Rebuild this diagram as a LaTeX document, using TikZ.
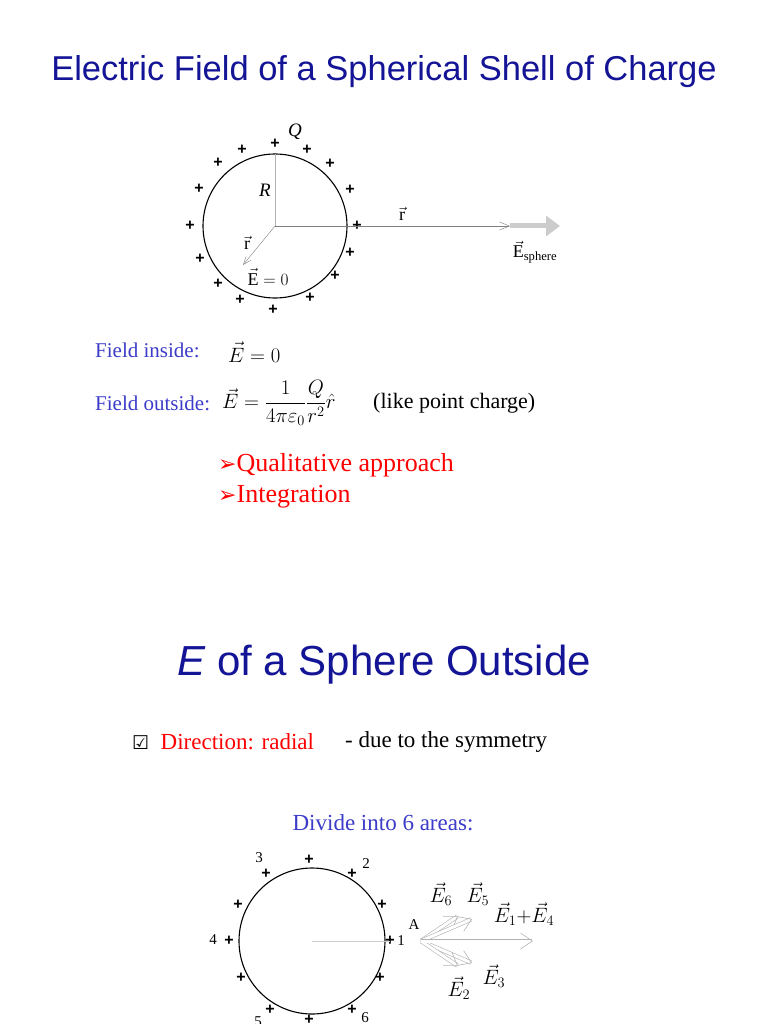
\documentclass[tikz,border=0pt]{standalone}
\usepackage{amsmath}
\usepackage{fontspec}
\setmainfont{Liberation Serif}
\newfontfamily\arialf{Liberation Sans}
\newfontfamily\symf{DejaVu Sans}
\usetikzlibrary{arrows.meta,positioning}
\definecolor{ttlblue}{RGB}{20,20,150}
\definecolor{txtblue}{RGB}{60,60,200}
\tikzset{
  plus/.style={inner sep=0pt, font=\arialf\bfseries\fontsize{16}{16}\selectfont},
  num/.style={inner sep=0pt, font=\fontsize{15}{15}\selectfont},
  lbl/.style={inner sep=0pt, font=\fontsize{18}{18}\selectfont},
  body/.style={inner sep=0pt, font=\fontsize{23}{23}\selectfont},
  field/.style={draw=gray!60, double=white, double distance=3pt, line width=0.6pt, -{Straight Barb[length=12pt,width=16pt]}},
}
\begin{document}
\begin{tikzpicture}[x=1pt,y=-1pt]
    \useasboundingbox (0,0) rectangle (768,1024);

    % titles
    \node[font=\arialf\fontsize{34.5}{34.5}\selectfont, text=ttlblue] (title1) at (384,72) {Electric Field of a Spherical Shell of Charge};
    \node[font=\arialf\fontsize{42}{42}\selectfont, text=ttlblue] (title2) at (384,665) {\textit{E} of a Sphere Outside};

    % upper shell
    \coordinate (o1) at (275,226);
    \draw[line width=1.1pt] (o1) circle (72);
    \foreach \p in {(275,144),(242,150),(218,163),(199,189),(190,226),(200,259),(218,284),(240,300),(273,310),(310,298),(335,276),(350,253),(357,226),(350,190),(330,164),(307,150)}
        \node[plus] at \p {+};
    \coordinate (top1) at (275,154);
    \coordinate (rtip) at (510,226);
    \coordinate (etip) at (560,226);
    \coordinate (rin) at (243,265);
    \draw[gray!60] (o1) -- (top1);
    \draw[gray, -{Straight Barb[length=10pt,width=8pt]}] (o1) -- (rtip);
    \draw[gray!40, line width=5pt, -{Triangle[length=14pt,width=20pt]}] (rtip) -- (etip);
    \draw[gray, -{Straight Barb[length=8pt,width=6pt]}] (o1) -- (rin);
    \node[lbl, font=\itshape\fontsize{19}{19}\selectfont] (q) at (295,132) {Q};
    \node[lbl, font=\itshape\fontsize{19}{19}\selectfont] (rr) at (265,190) {R};
    \node[lbl] (rvec) at (402,214) {$\vec{\mathrm{r}}$};
    \node[lbl] (esph) at (535,252) {$\vec{\mathrm{E}}_{\mathrm{sphere}}$};
    \node[lbl] (rvec2) at (247,243) {$\vec{\mathrm{r}}$};
    \node[lbl] (ezero) at (268,277) {$\vec{\mathrm{E}}=0$};

    % formulas
    \node[body, font=\fontsize{21}{21}\selectfont, text=txtblue, anchor=west] (fin) at (95,350) {Field inside:};
    \node[body, font=\fontsize{21}{21}\selectfont, anchor=west] (fin2) at (228,352) {$\vec{E}=0$};
    \node[body, font=\fontsize{21}{21}\selectfont, text=txtblue, anchor=west] (fout) at (95,403) {Field outside:};
    \node[body, font=\fontsize{20.5}{20.5}\selectfont, anchor=west] (fout2) at (222,403) {$\vec{E}=\dfrac{1}{4\pi\varepsilon_0}\dfrac{Q}{r^2}\hat{r}$};
    \node[body, font=\fontsize{22}{22}\selectfont, anchor=west] (like) at (373,403) {(like point charge)};
    \node[body, font=\fontsize{26}{26}\selectfont, text=red, anchor=west] (qual) at (218,465) {{\symf\fontsize{22}{22}\selectfont ➢}Qualitative approach};
    \node[body, font=\fontsize{26}{26}\selectfont, text=red, anchor=west] (integ) at (218,497) {{\symf\fontsize{22}{22}\selectfont ➢}Integration};

    \node[body, anchor=west] (chk) at (132,742) {{\symf\fontsize{19}{19}\selectfont ☑}\enspace\textcolor{red}{Direction: radial}};
    \node[body, anchor=west] (sym) at (345,742) {- due to the symmetry};
    \node[body, text=txtblue] (div) at (383,823) {Divide into 6 areas:};

    % lower shell
    \coordinate (o2) at (312,941);
    \draw[line width=1.1pt] (o2) circle (73);
    \foreach \p in {(309,860),(266,874),(352,874),(238,905),(382,905),(229,941),(390,941),(241,978),(380,978),(270,1010),(352,1010),(309,1020)}
        \node[plus] at \p {+};
    \foreach \n/\x/\y in {3/259/858,2/366/864,4/213/940,1/401/941,5/258/1022,6/365/1018}
        \node[num] at (\x,\y) {\n};
    \coordinate (a) at (421,941);
    \coordinate (e14) at (533,941);
    \coordinate (e6) at (458,916);
    \coordinate (e5) at (472,919);
    \coordinate (e3) at (472,963);
    \coordinate (e2) at (458,966);
    \coordinate (o2end) at (390,941);
    \draw[gray!40] (o2) -- (o2end);
    \foreach \t in {e6,e5,e3,e2}
        \draw[field] (a) -- (\t);
    \draw[field] (a) -- (e14);
    \node[num] (alab) at (414,925) {A};
    \node[font=\fontsize{22}{22}\selectfont] (l6) at (441,894) {$\vec{E}_6$};
    \node[font=\fontsize{22}{22}\selectfont] (l5) at (478,894) {$\vec{E}_5$};
    \node[font=\fontsize{22}{22}\selectfont] (l14) at (524,914) {$\vec{E}_1{+}\vec{E}_4$};
    \node[font=\fontsize{22}{22}\selectfont] (l3) at (494,976) {$\vec{E}_3$};
    \node[font=\fontsize{22}{22}\selectfont] (l2) at (459,988) {$\vec{E}_2$};
\end{tikzpicture}
\end{document}
